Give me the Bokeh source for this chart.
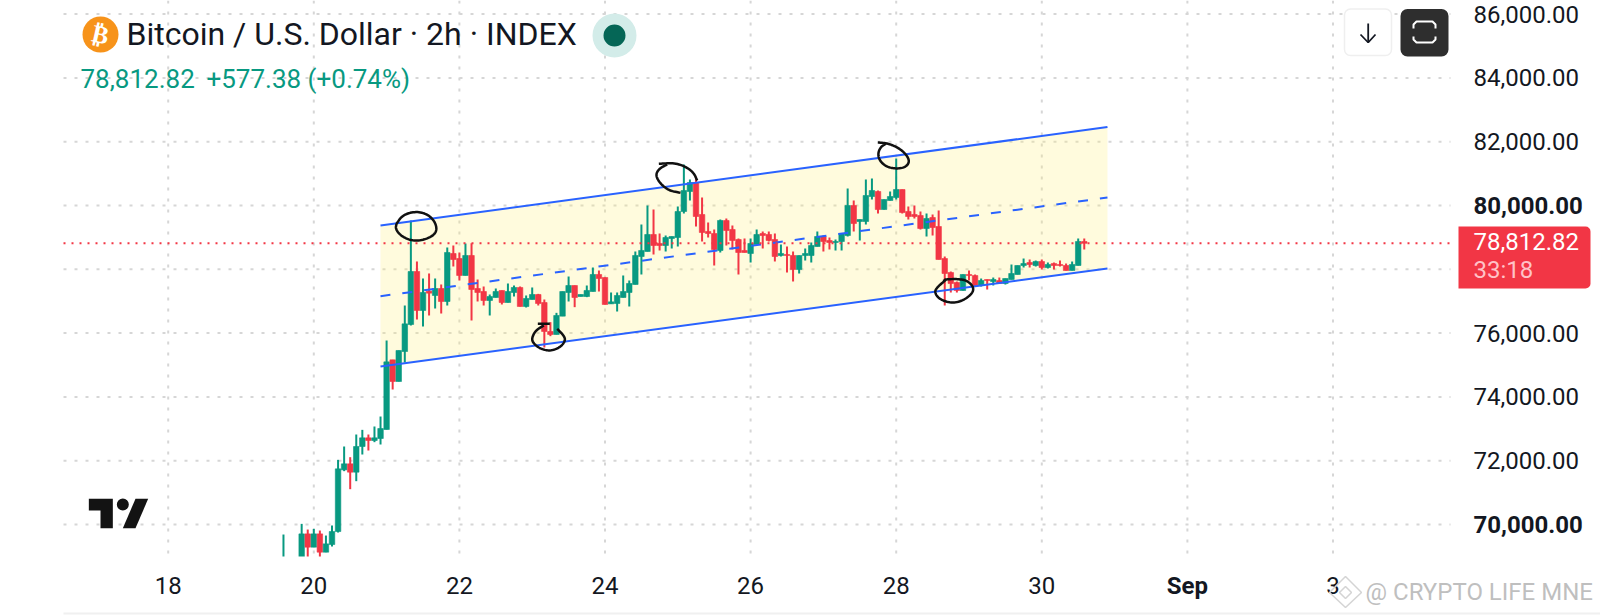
from bokeh.plotting import figure
from bokeh.models import (Range1d, FixedTicker, NumeralTickFormatter, Label, BoxAnnotation,
                          PolyAnnotation, ColumnDataSource, LinearAxis)
from bokeh.embed import file_html
from bokeh.resources import INLINE

GREEN = "#089981"
RED = "#F23645"
BLUE = "#2962FF"
FONT = "Roboto"
INK = "#131722"

bar_index = list(range(-5, 128))
opens = [68600,68750,68600,68800,69706,69289,69706,69132,69372,69780,71713,71902,71640,72445,72717,72633,72696,72978,75162,74483,75423,76270,77931,76709,77315,77179,77398,76991,78495,78339,77806,78433,77398,77304,77022,77116,77336,76959,77273,77430,76834,77053,77210,76959,76050,75956,76531,77273,77492,77147,77147,77304,77837,77743,76917,76928,77116,77273,77524,78401,78558,79091,78809,78746,78966,78997,79812,80439,80721,79718,79185,79122,78590,79530,79248,78934,78590,78496,78778,79122,79091,78934,78433,78464,78433,77993,78432,78432,78714,79028,78902,78840,78871,79059,80000,79498,79498,80282,80439,79874,80156,80250,80501,79812,79718,79686,79279,79624,79341,78338,77899,77586,77335,77837,77805,77492,77680,77617,77648,77554,77680,77837,78119,78213,78119,78244,78056,78181,78150,78119,77962,78119,78871]
closes = [68900,68600,68800,69706,69289,69706,69132,69393,69780,71745,71902,71640,72445,72717,72633,72717,73009,75099,74483,75455,76290,77931,76709,77273,77252,77398,76991,78527,78307,77806,78433,77367,77273,77022,77147,77304,76959,77304,77430,76834,77085,77210,76928,76050,75956,76552,77304,77492,77116,77210,77336,77837,77712,76897,76980,77179,77304,77555,78433,78590,79091,78746,78746,78997,79028,79812,80470,80721,79655,79154,79122,78621,79530,79216,78903,78527,78527,78809,79091,79060,78903,78401,78496,78433,77994,78432,78495,78746,79028,78871,78840,78871,79122,80000,79435,79561,80313,80470,79874,80188,80282,80501,79780,79655,79655,79279,79592,79310,78307,77868,77554,77335,77837,77805,77492,77648,77648,77680,77554,77711,77868,78119,78181,78150,78244,78056,78150,78119,78119,77962,78150,78871,78813]
highs = [69686,68950,68950,70020,69842,69863,69811,69654,69968,72027,72445,72110,72821,72967,72821,73072,73385,75768,75162,75455,76865,79530,78245,77712,77869,77712,77524,78684,78746,78527,78809,78819,77680,77461,77210,77398,77336,77555,77492,77461,77179,77430,77230,77053,76343,76635,77304,77774,77492,77210,77492,78056,77962,77743,77273,77273,77806,77649,78558,79405,79998,79875,79122,79060,79028,79969,81286,80815,80909,80251,79467,79248,79561,79593,79373,78966,78966,78966,79248,79185,79185,79122,78778,78715,78558,78432,78652,78840,79185,79059,78997,78934,79122,80533,80156,79561,80815,80846,80470,80188,80439,81473,80501,79968,80000,79812,79749,79718,79843,78401,77931,77617,77837,77962,77837,77711,77680,77742,77742,77711,78150,78119,78338,78307,78275,78307,78213,78213,78275,78181,78244,78965,78965]
lows = [68500,68500,68550,68700,68950,69289,68950,69132,69309,69748,71672,71107,71358,72194,72319,72581,72508,72978,74232,74483,75078,76238,76426,76207,76552,76771,76614,76865,78088,77649,77806,76395,76991,76865,76552,77116,76897,76959,77147,76834,76803,77053,76865,75549,75904,75956,76531,76991,76813,77147,77127,77304,77304,76897,76917,76677,77116,76834,77524,77837,78558,78464,78590,78558,78652,78715,79749,80157,79342,78872,78997,78119,78527,78746,78621,77837,78527,78213,78778,78652,78872,78245,78401,77900,77618,77868,78275,78213,78714,78558,78620,78589,78589,79028,79185,78902,79404,80188,79749,79874,80156,80188,79749,79561,79592,79247,79028,79059,78307,76865,77272,77272,77335,77648,77460,77460,77366,77492,77554,77523,77680,77837,78056,78056,78087,77993,78025,77993,78087,77962,77962,78119,78620]
assert {len(bar_index), len(opens), len(closes), len(highs), len(lows)} == {133}

price_ticks = [72000, 74000, 76000, 78000, 82000, 84000, 86000]
bold_price_ticks = [70000, 80000]
day_ticks = [18, 20, 22, 24, 26, 28, 30, 34]
day_tick_labels = {18: "18", 20: "20", 22: "22", 24: "24", 26: "26", 28: "28", 30: "30", 34: "3"}
month_tick = {32: "Sep"}
last_price = 78812.82

channel_days = [20.916, 30.902]
channel_upper = [79373, 82461]
channel_middle = [77157, 80251]
channel_lower = [74953, 78025]

PLOT_L, PLOT_R, PLOT_B = 63, 1450, 556


def day_at(px):
    return 20 + (px - 313.3) / 72.8


def price_at(py):
    return 80000 - (py - 205) / 0.0319


days = [20 + i / 12 for i in bar_index]
colors = [GREEN if c >= o else RED for o, c in zip(opens, closes)]
src = ColumnDataSource(dict(day=days, o=opens, c=closes, h=highs, l=lows, color=colors))

# The frame fills the whole canvas so that the price tag, the bold ticks and the
# watermark can sit outside the candle area; the axes are pinned inside it.
p = figure(width=1600, height=616, frame_width=1600, frame_height=616,
           output_backend="svg", toolbar_location=None,
           x_range=Range1d(day_at(0), day_at(1600)), y_range=Range1d(price_at(616), price_at(0)),
           x_axis_location=None, y_axis_location=None, min_border=0, background_fill_color="white")
p.outline_line_color = None
p.grid.visible = False

# grid ------------------------------------------------------------------
all_prices = price_ticks + bold_price_ticks
all_days = day_ticks + list(month_tick)
GRID = dict(line_color="#d6d6d6", line_width=2, line_dash="3 8", level="underlay")
p.segment([day_at(PLOT_L)] * len(all_prices), all_prices, [day_at(PLOT_R)] * len(all_prices), all_prices, **GRID)
p.segment(all_days, [price_at(0)] * len(all_days), all_days, [price_at(553)] * len(all_days), **GRID)

# channel fill ----------------------------------------------------------
p.patch(channel_days + channel_days[::-1], channel_upper + channel_lower[::-1],
        fill_color="#FFF176", fill_alpha=0.25, line_color=None)

# candles ---------------------------------------------------------------
p.segment("day", "h", "day", "l", source=src, line_color="color", line_width=2)
p.vbar("day", 5.5 / 72.8, "o", "c", source=src, fill_color="color", line_color="color", line_width=0.6)
# candles stop where the time scale begins
p.quad(left=[day_at(0)], right=[day_at(PLOT_R)], top=[price_at(PLOT_B)], bottom=[price_at(616)],
       fill_color="white", line_color=None)

# channel lines, last price ----------------------------------------------
p.line(channel_days, channel_upper, line_color=BLUE, line_width=2)
p.line(channel_days, channel_lower, line_color=BLUE, line_width=2)
p.line(channel_days, channel_middle, line_color=BLUE, line_width=2, line_dash="10 12")
p.line([day_at(PLOT_L), day_at(PLOT_R)], [last_price, last_price], line_color=RED, line_width=2, line_dash="2 6")


# axes ------------------------------------------------------------------
def style(ax, standoff, font_style):
    ax.axis_line_color = None
    ax.major_tick_line_color = None
    ax.minor_tick_line_color = None
    ax.major_tick_out = 0
    ax.major_tick_in = 0
    ax.major_label_text_font = FONT
    ax.major_label_text_font_size = "24px"
    ax.major_label_text_color = INK
    ax.major_label_text_font_style = font_style
    ax.major_label_standoff = standoff


for ticks, weight in ((price_ticks, "normal"), (bold_price_ticks, "bold")):
    ax = LinearAxis(fixed_location=day_at(PLOT_R), ticker=FixedTicker(ticks=ticks),
                    formatter=NumeralTickFormatter(format="0,0.00"))
    style(ax, 23, weight)
    p.add_layout(ax, "right")
for ticks, labels, weight, gap in ((day_ticks, day_tick_labels, "normal", 20), (list(month_tick), month_tick, "bold", 15)):
    ax = LinearAxis(fixed_location=price_at(PLOT_B), ticker=FixedTicker(ticks=ticks), major_label_overrides=labels)
    style(ax, gap, weight)
    p.add_layout(ax, "below")


# hand-drawn circles (zoom-crop coordinates with their crop origin) -------
def smooth(path, rounds=3):
    pts = list(path)
    for _ in range(rounds):
        out = [pts[0]]
        for (a, b), (c, d) in zip(pts, pts[1:]):
            out += [(0.75 * a + 0.25 * c, 0.75 * b + 0.25 * d), (0.25 * a + 0.75 * c, 0.25 * b + 0.75 * d)]
        out.append(pts[-1])
        pts = out
    return pts


def strokes(base, *paths):
    xs, ys = [], []
    for path in paths:
        path = smooth(path)
        xs.append([day_at(base[0] + a / 3) for a, _ in path])
        ys.append([price_at(base[1] + b / 3) for _, b in path])
    return xs, ys


rings = [
    strokes((270, 200), [(378,70),(395,45),(430,33),(465,38),(490,58),(500,85),(490,105),(455,120),(420,120),(390,105),(375,85),(378,70)]),
    strokes((520, 140), [(415,70),(460,67),(495,78),(520,97),(530,120)],
            [(440,72),(415,85),(405,105),(420,130),(445,150),(480,157)],
            [(52,550),(88,550)],
            [(70,555),(45,570),(33,595),(40,610),(60,625),(90,632),(120,620),(135,600),(130,585),(110,565)]),
    strokes((790, 130), [(262,36),(290,38),(325,52),(350,75),(357,95),(345,110),(320,115),(290,110),(268,92),(262,70),(270,50),(285,40)],
            [(458,452),(470,445),(440,470),(432,485),(445,505),(480,518),(515,512),(545,490),(550,470),(530,450),(500,445),(462,447)]),
]
for xs, ys in rings:
    p.multi_line(xs, ys, line_color="#111111", line_width=2.5)


# page-positioned decoration ----------------------------------------------
def text(px, py, s, size, color=INK, style="normal", font=FONT, align="left", angle=0):
    p.add_layout(Label(x=px, y=py, x_units="canvas", y_units="canvas", text=s, text_font=font,
                       text_font_size=f"{size}px", text_color=color, text_font_style=style,
                       text_align=align, text_baseline="middle", angle=angle))


def box(x0, x1, y0, y1, fill, line=None, radius=0, level="annotation"):
    p.add_layout(BoxAnnotation(left=x0, right=x1, top=y0, bottom=y1, left_units="canvas", right_units="canvas",
                               top_units="canvas", bottom_units="canvas", level=level,
                               fill_color=fill, fill_alpha=1, line_color=line, line_alpha=1 if line else 0,
                               line_width=1.5, border_radius=radius))


def poly(points, fill=None, line=None, width=1.5):
    p.add_layout(PolyAnnotation(xs=[a for a, _ in points], ys=[b for _, b in points],
                                xs_units="canvas", ys_units="canvas",
                                fill_color=fill, fill_alpha=1 if fill else 0,
                                line_color=line, line_alpha=1 if line else 0, line_width=width))


def mark(px, py, size, color):
    p.scatter([day_at(px)], [price_at(py)], size=size, color=color, line_color=None)


# header
mark(100, 34, 36, "#F7931A")
text(100, 34, "₿", 25, "white", "bold", "DejaVu Sans", "center", -0.22)
text(126, 33, "Bitcoin / U.S. Dollar · 2h · INDEX", 32, "#131722")
mark(614, 35, 44, "#D3ECE9")
mark(614, 35, 22, "#056656")
text(80, 78, "78,812.82", 26, GREEN)
text(206, 78, "+577.38 (+0.74%)", 26, GREEN)

# buttons
box(1344, 1391, 8.5, 55, "white", "#EFEFEF", 6, "underlay")
p.multi_line([[day_at(1367.7)] * 2, [day_at(1360), day_at(1367.7), day_at(1375)]],
             [[price_at(23), price_at(42)], [price_at(34), price_at(42), price_at(34)]],
             line_color="#131722", line_width=1.8)
box(1400, 1448, 8.5, 56, "#2E2E2E", None, 7, "underlay")
p.multi_line([[day_at(a) for a in (1413, 1413, 1416, 1432, 1435, 1435)]] * 2,
             [[price_at(b) for b in (28, 24, 21, 21, 24, 28)], [price_at(b) for b in (36, 39, 42, 42, 39, 36)]],
             line_color="white", line_width=2)

# TradingView mark
z8 = lambda a, b: (60 + a / 3, 470 + b / 3)
poly([z8(85,85), z8(157,85), z8(157,173), z8(120,173), z8(120,120), z8(85,120)], "#131313")
poly([z8(225,85), z8(263,85), z8(225,173), z8(187,173)], "#131313")
mark(60 + 187 / 3, 470 + 102 / 3, 12, "#131313")

# last-price tag
box(1458, 1590, 226, 288, RED, None, (0, 5, 5, 0))
text(1473, 241, "78,812.82", 24, "white")
text(1473, 269, "33:18", 24, "#FFC2C7")

# watermark, bottom rule
poly([(1345, 576), (1361, 592), (1345, 607), (1329, 592)], None, "#D4D4D4", 1.5)
poly([(1345, 586), (1351, 592), (1345, 598), (1339, 592)], None, "#D4D4D4", 1.5)
text(1365, 591, "@ CRYPTO LIFE MNE", 24, "#BFBFBF")
box(63, 1600, 612, 614, "#F0F0F0")

open("out.html", "w").write(file_html(p, INLINE))
